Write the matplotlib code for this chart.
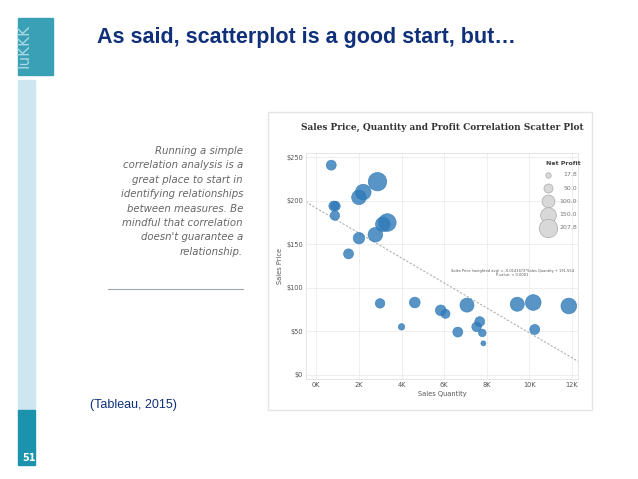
import matplotlib.pyplot as plt
import matplotlib.patches as mpatches
import numpy as np

# bubble data
qty = [700, 820, 900, 870, 1510, 2000, 2000, 2200, 2870, 2770, 3120, 3330,
       2990, 4000, 4620, 5840, 6060, 6640, 7070, 7670, 7520, 7790, 7840,
       9430, 10180, 10250, 11850]
price = [241, 194, 194, 183, 139, 157, 204, 210, 222, 161, 173, 175,
         82, 55, 83, 74, 70, 49, 80, 61, 55, 48, 36, 81, 83, 52, 79]
profit = [60, 60, 55, 55, 60, 80, 130, 150, 207, 130, 130, 190,
          55, 25, 70, 70, 50, 60, 120, 60, 55, 35, 15, 120, 150, 60, 150]
legend_vals = [17.8, 50.0, 100.0, 150.0, 207.8]
x_ticks = [0, 2000, 4000, 6000, 8000, 10000, 12000]
x_labels = ["0K", "2K", "4K", "6K", "8K", "10K", "12K"]
y_ticks = [0, 50, 100, 150, 200, 250]
y_labels = ["$0", "$50", "$100", "$150", "$200", "$250"]
slope, intercept = -0.0143473, 191.554

fig = plt.figure(figsize=(6.38, 4.79), dpi=100)
W, H = 638, 479


def fx(px):
    return px / W


def fy(py):
    return 1 - py / H


# slide decorations
fig.patches.append(mpatches.Rectangle((fx(18), fy(410)), 17 / W, 330 / H,
                                      transform=fig.transFigure, color="#cde6f0"))
fig.patches.append(mpatches.Rectangle((fx(18), fy(465)), 17 / W, 55 / H,
                                      transform=fig.transFigure, color="#1b93ad"))
fig.patches.append(mpatches.Rectangle((fx(18), fy(75)), 35 / W, 57 / H,
                                      transform=fig.transFigure, color="#3aa0b5"))
fig.text(fx(24), fy(46), "IuKKK", rotation=90, color="#a8d8e4", fontsize=11,
         ha="center", va="center")
fig.text(fx(22), fy(458), "51", color="white", fontsize=7, fontweight="bold",
         va="center")
fig.text(fx(97), fy(37), "As said, scatterplot is a good start, but…",
         color="#10307a", fontsize=15.5, fontweight="bold", va="center",
         family="Liberation Sans")

quote = ("Running a simple\ncorrelation analysis is a\ngreat place to start in\n"
         "identifying relationships\nbetween measures. Be\nmindful that correlation\n"
         "doesn't guarantee a\nrelationship.")
fig.text(fx(243), fy(146), quote, ha="right", va="top", fontsize=7.3,
         style="italic", color="#666666", linespacing=1.55)
fig.lines.append(plt.Line2D([fx(108), fx(243)], [fy(289), fy(289)],
                            transform=fig.transFigure, color="#a0a8b0", lw=0.8))
fig.text(fx(90), fy(405), "(Tableau, 2015)", fontsize=9, color="#10307a", va="center",
         family="Liberation Sans")

# chart frame (behind the axes)
frame = mpatches.Rectangle((fx(268), fy(410)), 324 / W, 298 / H,
                           transform=fig.transFigure, fc="white",
                           ec="#e4e4e4", lw=1, zorder=-1)
fig.patches.append(frame)
fig.text(fx(442), fy(127), "Sales Price, Quantity and Profit Correlation Scatter Plot",
         ha="center", va="center", fontsize=6.5, fontweight="bold", family="serif",
         color="#333333")

ax = fig.add_axes([fx(305.7), fy(379), 272.7 / W, 226 / H])
ax.patch.set_alpha(0)
ax.scatter(qty, price, s=np.array(profit) * 0.85, color="#2f7ab8", alpha=0.8,
           edgecolors="#2f7ab8", linewidths=0.5, zorder=3)
xs = np.array([-500, 12500])
ax.plot(xs, slope * xs + intercept, color="#b0b0b0", ls=(0, (2, 1.5)), lw=0.8, zorder=2)
ax.text(9200, 117, "Sales Price (weighted avg) = -0.0143473*Sales Quantity + 191.554\nP-value: < 0.0001",
        fontsize=2.6, color="#555555", ha="center", va="center")

# size legend
ax.text(11600, 243, "Net Profit", fontsize=4.5, fontweight="bold", color="#444444",
        ha="center", va="center")
for i, v in enumerate(legend_vals):
    yy = 230 - i * 15.3
    ax.scatter([10850], [yy], s=v * 0.85, color="#d8d8d8", edgecolors="#aaaaaa",
               linewidths=0.5, zorder=3)
    ax.text(12250, yy, f"{v:.1f}", fontsize=4.5, color="#777777", ha="right", va="center")

ax.set_xlim(-500, 12300)
ax.set_ylim(-5, 255)
ax.set_xticks(x_ticks, x_labels)
ax.set_yticks(y_ticks, y_labels)
ax.tick_params(labelsize=4.8, length=0, colors="#555555", pad=2)
ax.grid(color="#ececec", lw=0.6)
ax.set_axisbelow(True)
for sp in ax.spines.values():
    sp.set_color("#e0e0e0")
    sp.set_linewidth(0.6)
ax.set_xlabel("Sales Quantity", fontsize=4.8, color="#555555", labelpad=2)
ax.set_ylabel("Sales Price", fontsize=4.8, color="#555555", labelpad=2)

fig.savefig("out.png", dpi=100)
